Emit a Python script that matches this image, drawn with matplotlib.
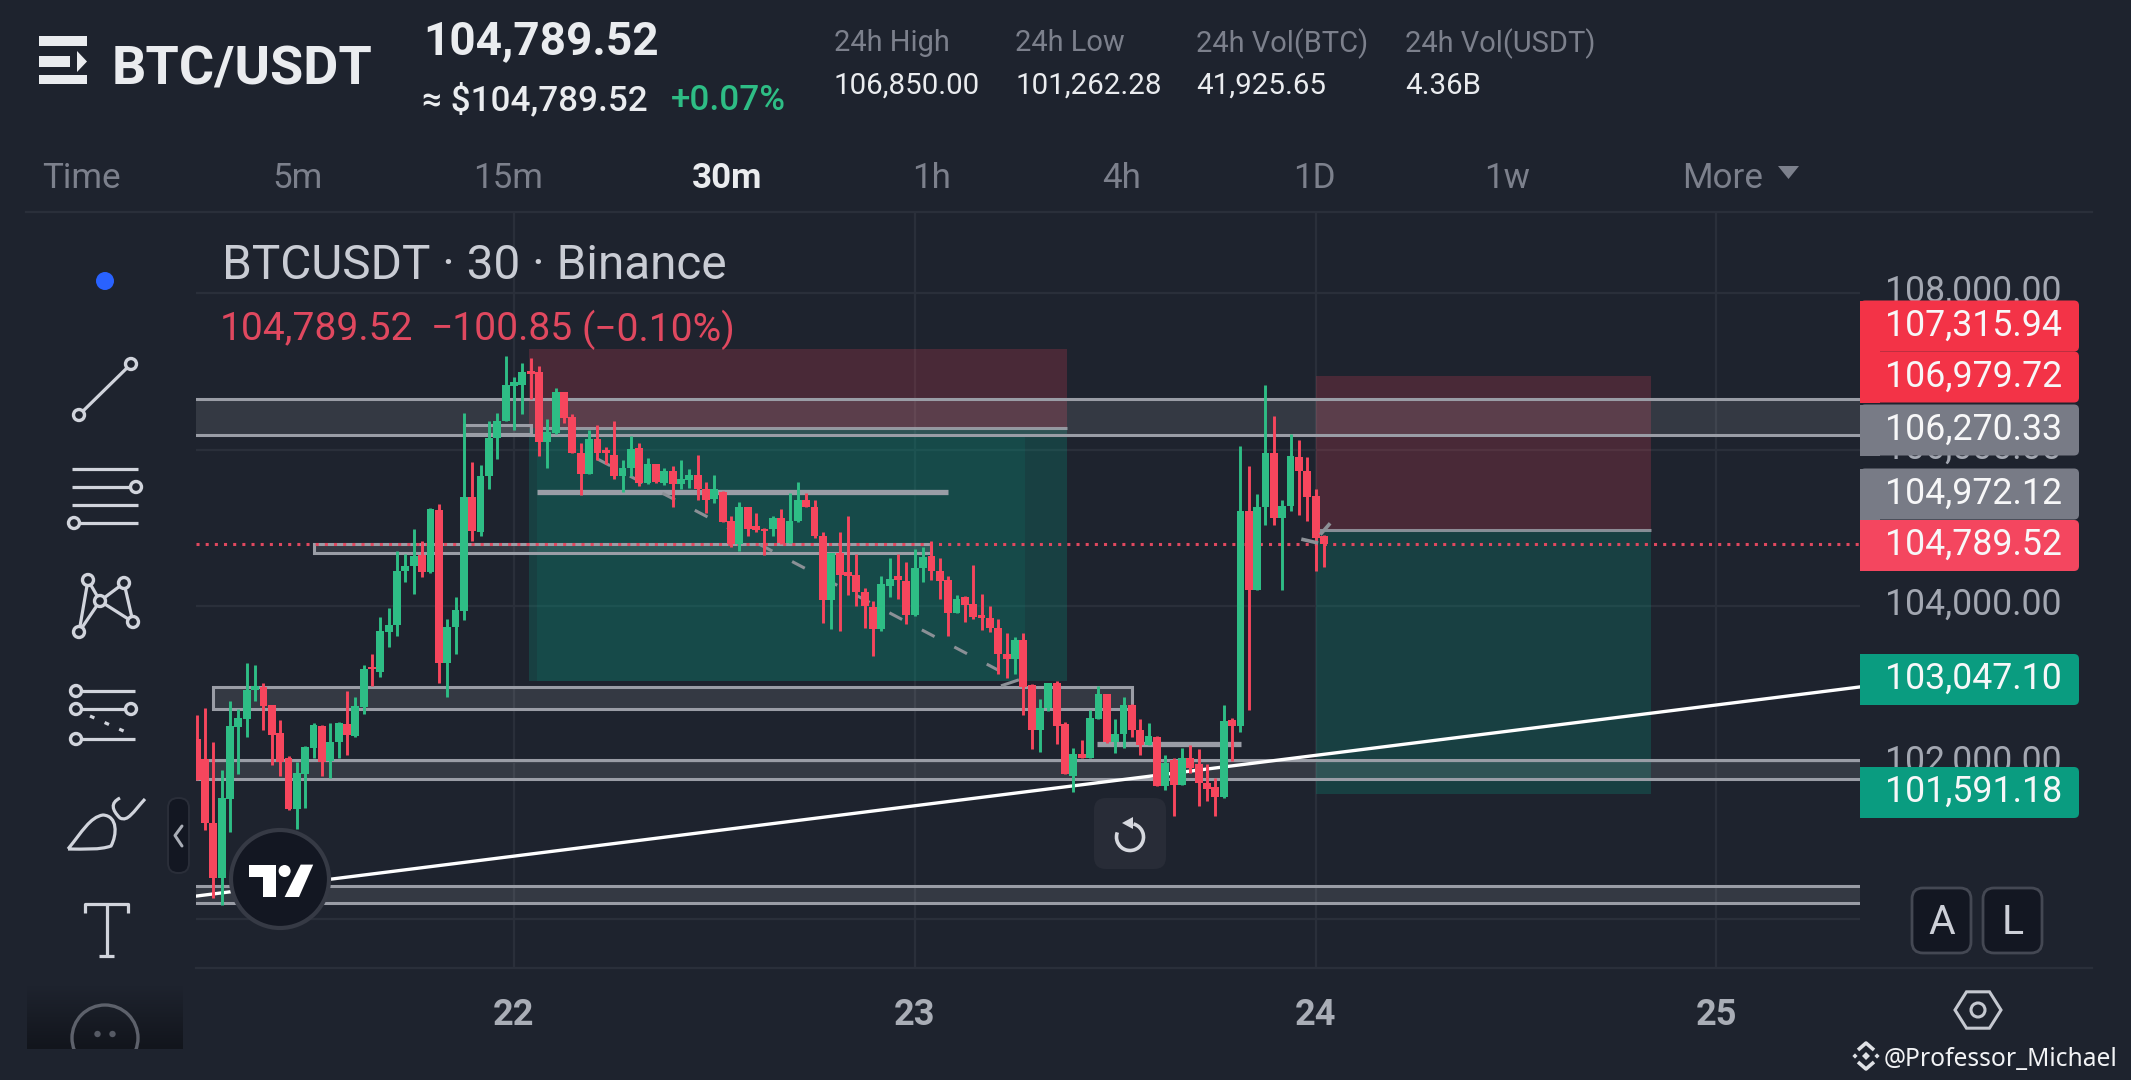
import numpy as np
import matplotlib
matplotlib.use("Agg")
import matplotlib.pyplot as plt
from matplotlib.patches import Rectangle, Circle, Polygon, FancyBboxPatch, Arc, PathPatch
from matplotlib.path import Path
from matplotlib.colors import to_rgb
from matplotlib.transforms import ScaledTranslation

plt.rcParams['font.family'] = ['Roboto', 'DejaVu Sans']

# 30m candles, bar 0 is the start of the 22nd
bar_open = [102300, 102040, 101230, 100520, 101530, 102450, 102560, 102920, 102960, 102730, 102370, 102050,
            101400, 101850, 102190, 102460, 102020, 102260, 102490, 102340, 102710, 103220, 103160, 103670,
            103760, 104450, 104510, 104650, 104440, 105230, 103270, 103730, 103940, 105400, 104950, 105660,
            106150, 106360, 106810, 106830, 107000, 106990, 106100, 106210, 106730, 106420, 105960, 105690,
            106130, 105990, 105930, 105660, 105770, 106020, 105570, 105810, 105570, 105730, 105560, 105610,
            105680, 105490, 105370, 105460, 105090, 104790, 105260, 105020, 104990, 104980, 105130, 104810,
            105090, 105360, 105270, 104900, 104080, 104680, 104430, 104390, 104180, 103990, 103700, 104260,
            104380, 104320, 103890, 104490, 104640, 104450, 104330, 103910, 104110, 104020, 103890, 103850,
            103720, 103390, 103320, 103560, 102990, 102410, 102690, 103020, 102490, 101830, 102110, 102060,
            102560, 102880, 102260, 102360, 102740, 102420, 102220, 102330, 101700, 102030, 101710, 102060,
            101980, 101740, 101680, 101560, 102540, 102470, 105220, 104210, 105260, 105950, 105120, 105280,
            105900, 105730, 105410, 104890]
bar_high = [102600, 102700, 102260, 101900, 102790, 102680, 103270, 103240, 103010, 102730, 102540, 102080,
            102010, 102210, 102510, 102480, 102510, 102520, 102910, 102830, 103240, 103380, 103860, 103980,
            104700, 104670, 104990, 104830, 105250, 105300, 103830, 104120, 106470, 105840, 105800, 106370,
            106470, 107200, 106930, 107110, 107170, 107070, 106390, 106790, 106740, 106460, 106090, 106250,
            106310, 106030, 106370, 105870, 106180, 106080, 105890, 105820, 105770, 105790, 105870, 105750,
            105930, 105580, 105670, 105470, 105150, 105330, 105260, 105190, 105000, 105150, 105240, 105440,
            105580, 105440, 105360, 104950, 104680, 104940, 105150, 104660, 104230, 104060, 104380, 104610,
            104670, 104560, 104730, 104750, 104830, 104610, 104380, 104140, 104130, 104520, 104150, 104000,
            103830, 103660, 103600, 103660, 103000, 102810, 103020, 103040, 102520, 102180, 102290, 102670,
            102980, 102880, 102550, 102830, 102750, 102550, 102500, 102340, 102100, 102050, 102190, 102220,
            102170, 101980, 101800, 102740, 102570, 106040, 105790, 105430, 106820, 106430, 105360, 106200,
            106120, 105900, 105500, 104910]
bar_low = [101780, 101140, 100260, 100180, 101110, 101850, 102330, 102780, 102420, 101970, 101830, 101390,
           101150, 101420, 102060, 101820, 101800, 102060, 102100, 102330, 102620, 102980, 103090, 103480,
           103620, 104310, 104150, 104370, 104420, 103020, 102830, 103380, 103820, 104830, 104890, 105500,
           105880, 106360, 106250, 106460, 106650, 105920, 105760, 106200, 106340, 105960, 105420, 105690,
           105870, 105820, 105620, 105460, 105660, 105540, 105560, 105570, 105550, 105270, 105490, 105510,
           105360, 105190, 105320, 105070, 104750, 104700, 104900, 104950, 104650, 104900, 104790, 104800,
           105070, 105260, 104870, 103780, 103710, 103680, 104140, 104000, 103720, 103360, 103680, 104110,
           104090, 103770, 103870, 104310, 104330, 104090, 103620, 103910, 103790, 103840, 103690, 103670,
           103130, 103080, 103130, 102610, 102170, 102130, 102660, 102230, 101850, 101620, 102050, 102050,
           102550, 102250, 102120, 102190, 102330, 102090, 102220, 101700, 101650, 101310, 101710, 101870,
           101440, 101510, 101320, 101550, 102020, 102390, 102670, 104210, 105040, 105030, 104210, 105220,
           105160, 105090, 104450, 104500]
bar_close = [101780, 101230, 100520, 101540, 102460, 102570, 102920, 102980, 102720, 102350, 102010, 101400,
             101860, 102200, 102480, 102010, 102260, 102500, 102350, 102720, 103200, 103190, 103680, 103760,
             104450, 104510, 104640, 104440, 105240, 103270, 103730, 103950, 105400, 104960, 105660, 106150,
             106370, 106830, 106860, 106990, 106970, 106100, 106220, 106740, 106410, 105960, 105690, 106140,
             105960, 105950, 105660, 105770, 106010, 105570, 105820, 105580, 105730, 105560, 105620, 105680,
             105490, 105360, 105490, 105070, 104790, 105260, 104980, 104970, 104960, 105130, 104800, 105090,
             105360, 105270, 104900, 104080, 104680, 104400, 104380, 104180, 104000, 103710, 104280, 104350,
             104330, 103890, 104490, 104630, 104450, 104320, 103910, 104090, 104010, 103860, 103850, 103720,
             103380, 103320, 103570, 102960, 102410, 102700, 103010, 102470, 101850, 102110, 102050, 102570,
             102880, 102260, 102360, 102740, 102420, 102220, 102340, 101700, 101990, 101710, 102060, 101930,
             101740, 101660, 101560, 102530, 102470, 105220, 104210, 105260, 105950, 105120, 105280, 105920,
             105730, 105400, 104870, 104790]
bar_index = np.arange(-38, 98)

last_price = 104789.52
y_ticks = [108000, 106000, 104000, 102000, 100000]
y_tick_labels = ["108,000.00", "106,000.00", "104,000.00", "102,000.00", ""]
day_ticks = [0, 48, 96, 144]
day_labels = ["22", "23", "24", "25"]

# grey zones: first bar, last bar, top price, bottom price
zone_start = [-40, -6, -24, -36, -40, -40]
zone_end = [170, 2, 50, 74, 170, 170]
zone_top = [106650, 106320, 104795, 102970, 102030, 100420]
zone_bottom = [106190, 106200, 104680, 102685, 101790, 100200]

# thin solid levels
level_start = [2.8, 69.8]
level_end = [52, 87.1]
level_price = [105460, 102240]

# trend line and the dashed projection
trend_x = [-38.1, 161.2]
trend_y = [100290, 102965]
dash_x = [10, 60.3]
dash_y = [105880, 103050]

# long/short boxes
box_start = [1.8, 96]
box_end = [66.2, 136.2]
box_stop = [107280, 106945]
box_entry = [106270.33, 104972.12]
box_target = [103047.10, 101591.18]

tag_values = [107315.94, 106979.72, 106270.33, 104972.12, 104789.52, 103047.10, 101591.18]
tag_colors = ['#f33347', '#f33347', '#787b86', '#787b86', '#f4465f', '#0a9c80', '#0a9c80']
tag_centers = [326, 377, 430, 494, 545.5, 679.5, 792.5]

BG = '#1e232e'
GRID = '#2a2f3a'
UP = '#2ebd85'
DOWN = '#f6465d'
ZONE = '#9a9da6'
ICON = '#d1d4dc'
MUTED = '#7c808c'
DARK = '#131722'

fig = plt.figure(figsize=(21.31, 10.8), dpi=100, facecolor=BG)
ax = fig.add_axes([196 / 2131, 1 - 968 / 1080, (1860 - 196) / 2131, (968 - 212) / 1080], facecolor=BG)
ax.set_xlim(-38.08, 161.2)
ax.set_ylim(99371, 109038)
for s in ax.spines.values():
    s.set_visible(False)

ax.set_yticks(y_ticks, y_tick_labels)
ax.set_xticks(day_ticks, day_labels)
ax.yaxis.tick_right()
ax.tick_params(axis='y', length=0, pad=145, labelsize=25.7, labelcolor='#a3a7b1')
for t in ax.get_yticklabels():
    t.set_ha('right')
    t.set_transform(t.get_transform() + ScaledTranslation(0, 0.05, fig.dpi_scale_trans))
ax.tick_params(axis='x', length=0, pad=21, labelsize=26, labelcolor='#a9adb6')
for t in ax.get_xticklabels():
    t.set_fontweight('bold')
ax.grid(color=GRID, lw=1.6, zorder=0)
ax.set_axisbelow(True)

# position boxes
for i in range(2):
    w = box_end[i] - box_start[i]
    ax.add_patch(Rectangle((box_start[i], box_entry[i]), w, box_stop[i] - box_entry[i], fc=DOWN, alpha=0.2, lw=0, zorder=1))
    ax.add_patch(Rectangle((box_start[i], box_target[i]), w, box_entry[i] - box_target[i], fc='#089981', alpha=0.25, lw=0, zorder=1))
    ax.hlines(box_entry[i], max(box_start[i], 2.8), box_end[i], color=ZONE, lw=2.2, alpha=0.85, zorder=2)
# lighter second box on top of the first one
ax.add_patch(Rectangle((2.8, box_target[0]), 58.4, 106170 - box_target[0], fc='#089981', alpha=0.12, lw=0, zorder=1))

for i in range(len(zone_start)):
    ax.add_patch(Rectangle((zone_start[i], zone_bottom[i]), zone_end[i] - zone_start[i], zone_top[i] - zone_bottom[i],
                           fc=(1, 1, 1, 0.1), ec=ZONE, lw=2.2, zorder=2))
ax.hlines(level_price, level_start, level_end, color=ZONE, lw=3.8, zorder=2)

ax.plot(dash_x, dash_y, color='#8b9096', lw=2.2, ls=(0, (4.7, 7.3)), zorder=2)
ax.plot([58.5, 60.3], [102985, 103050], color='#8b9096', lw=2.2, zorder=2)
ax.plot([94.5, 96.1], [104850, 104810], color='#8b9096', lw=2.6, zorder=5)
ax.plot([96.7, 97.6], [104930, 105040], color='#8b9096', lw=2.6, zorder=5)
ax.plot(trend_x, trend_y, color='white', lw=2.4, zorder=3)
ax.axhline(last_price, color='#e0485f', lw=2.2, ls=(0, (1, 2)), zorder=3)

# candles
bar_open = np.array(bar_open)
bar_close = np.array(bar_close)
colors = [UP if c >= o else DOWN for o, c in zip(bar_open, bar_close)]
ax.vlines(bar_index, bar_low, bar_high, colors=colors, lw=2.1, zorder=4)
ax.bar(bar_index, np.abs(bar_close - bar_open), bottom=np.minimum(bar_open, bar_close), width=0.94, color=colors, lw=0, zorder=4)

# everything around the chart, in pixels
ov = fig.add_axes([0, 0, 1, 1], zorder=10)
ov.patch.set_alpha(0)
ov.axis('off')


def label(x, y, s, px, color, weight='normal', ha='left', family=None):
    ov.text(x, y, s, fontsize=px * 0.72, color=color, fontweight=weight, ha=ha, va='center_baseline', family=family)


def stroke(xs, ys, lw=3.2, color=ICON, **kw):
    ov.plot(xs, ys, color=color, lw=lw * 0.72, solid_capstyle=kw.pop('cap', 'round'), **kw)


def dot(x, y, r=5.5, color=ICON):
    ov.add_patch(Circle((x, y), r, fc=BG, ec=color, lw=2.4, zorder=4))


# header
for y0, y1, x1 in [(36, 46, 87), (56, 67, 70), (75, 84, 87)]:
    ov.add_patch(Rectangle((39, y0), x1 - 39, y1 - y0, fc='#eaecef', lw=0))
ov.add_patch(Polygon([(77, 51), (87, 61.5), (77, 72)], fc='#eaecef', lw=0))
label(112, 64, "BTC/USDT", 54, '#eaecef', 'bold')
label(423, 37, "104,789.52", 46, '#eaecef', 'bold')
label(422, 96, "≈ $104,789.52", 35, '#eaecef', 'medium')
label(671, 97, "+0.07%", 35, UP, 'medium')

stat_x = [834, 1015, 1196, 1405]
stat_names = ["24h High", "24h Low", "24h Vol(BTC)", "24h Vol(USDT)"]
stat_values = ["106,850.00", "101,262.28", "41,925.65", "4.36B"]
for x, n, v in zip(stat_x, stat_names, stat_values):
    label(x, 40, n, 29, MUTED)
    label(x, 83, v, 29.5, '#eaecef')

tab_x = [42, 272, 473, 692, 912, 1102, 1293, 1484, 1682]
tab_names = ["Time", "5m", "15m", "30m", "1h", "4h", "1D", "1w", "More"]
for x, n in zip(tab_x, tab_names):
    if n == "30m":
        label(x, 175, n, 35, '#eaecef', 'bold')
    else:
        label(x, 175, n, 35, MUTED)
ov.add_patch(Polygon([(1778, 166), (1799, 166), (1788.5, 179)], fc=MUTED, lw=0))
ov.plot([26, 2092], [212, 212], color=GRID, lw=1.6)
ov.plot([196, 2092], [968, 968], color=GRID, lw=1.6)

label(222, 261, "BTCUSDT · 30 · Binance", 47.8, '#c9ccd4')
label(220, 325, "104,789.52", 39, '#e0485f')
label(431, 325, "−100.85", 39, '#e0485f')
label(582, 325, "(−0.10%)", 39, '#e0485f')

# price tags
for v, c, yc in zip(tag_values, tag_colors, tag_centers):
    ov.add_patch(FancyBboxPatch((1860, yc - 25.5), 219, 51, boxstyle="round,pad=0,rounding_size=5", fc=c, lw=0))
    ov.add_patch(Rectangle((1860, yc - 25.5), 20, 51, fc=c, lw=0))
    label(2062, yc - 4.5, f"{v:,.2f}", 35.7, '#f7f7f8', ha='right')

# drawing tools
ov.add_patch(Circle((105, 281), 9, fc='#2962ff', lw=0))

stroke([79, 131], [415, 364])
dot(79, 415)
dot(131, 364)

for y, x0, x1 in [(469, 72, 138), (487, 72, 135), (505, 72, 138), (523, 75, 138)]:
    stroke([x0, x1], [y, y], cap='butt')
dot(136, 487)
dot(74, 523)

fork = [(88, 580), (124, 583), (100, 601), (79, 632), (133, 622)]
for a, b in [(0, 3), (0, 2), (2, 3), (2, 1), (2, 4), (1, 4)]:
    stroke([fork[a][0], fork[b][0]], [fork[a][1], fork[b][1]])
for x, y in fork:
    dot(x, y)

for y, x1 in [(691, 135), (709, 131), (739, 135)]:
    stroke([76, x1], [y, y], cap='butt')
stroke([90, 128], [716, 733], lw=3.2, ls=(0, (1.5, 3.5)))
for x, y in [(76, 691), (76, 709), (131, 709), (76, 739)]:
    dot(x, y)

brush = Path([(68, 849), (82, 832), (90, 817), (103, 815), (118, 816), (117, 835), (111, 846), (100, 850), (85, 849), (68, 849)],
             [1, 4, 4, 4, 4, 4, 4, 4, 4, 4])
ov.add_patch(PathPatch(brush, fc='none', ec=ICON, lw=2.3))
handle = Path([(120, 798), (110, 803), (112, 810), (120, 818), (128, 822), (133, 812), (145, 799)], [1, 4, 4, 4, 4, 4, 4])
ov.add_patch(PathPatch(handle, fc='none', ec=ICON, lw=2.3))

stroke([85, 85, 128, 128], [913, 904, 904, 913], cap='butt')
stroke([107, 107], [904, 956], cap='butt')
stroke([99, 114], [956, 956], cap='butt')

# bottom of the toolbar fades out
c0 = np.array(to_rgb(BG))
c1 = np.array(to_rgb('#12151c'))
fade = np.linspace(0, 1, 64)[:, None, None] * (c1 - c0) + c0
ov.imshow(fade, extent=(27, 183, 1049, 986), aspect='auto', zorder=1)
clip = Rectangle((27, 986), 156, 63, transform=ov.transData)
more = Circle((105, 1038), 33, fc='none', ec='#5d616b', lw=2.4, zorder=2)
ov.add_patch(more)
more.set_clip_path(clip)
ov.add_patch(Circle((97.5, 1034), 3.2, fc='#565a64', lw=0, zorder=2))
ov.add_patch(Circle((112.5, 1034), 3.2, fc='#565a64', lw=0, zorder=2))

# collapse pill
ov.add_patch(FancyBboxPatch((168, 798), 21, 75, boxstyle="round,pad=0,rounding_size=10", fc=DARK, ec='#2a2e39', lw=1.4))
stroke([182, 175, 182], [826, 835.5, 846], color='#a9adb6', lw=3)

# tradingview badge
ov.add_patch(Circle((280, 879), 49, fc=DARK, ec='#363a45', lw=3, zorder=5))
ov.add_patch(Polygon([(249, 864.6), (276, 864.6), (276, 897), (263, 897), (263, 876.5), (249, 876.5)], fc='white', lw=0, zorder=6))
ov.add_patch(Circle((284.6, 871), 6, fc='white', lw=0, zorder=6))
ov.add_patch(Polygon([(300.7, 864.6), (313.2, 864.6), (299, 897), (284.6, 897)], fc='white', lw=0, zorder=6))

# reset button
ov.add_patch(FancyBboxPatch((1094, 798), 72, 71, boxstyle="round,pad=0,rounding_size=12", fc='#282c37', lw=0, zorder=5))
ov.add_patch(Arc((1130, 837), 27, 27, theta1=-75, theta2=200, ec='#d6d8de', lw=2.6, zorder=6))
ov.add_patch(Polygon([(1122, 823), (1133, 817), (1133, 829)], fc='#d6d8de', lw=0, zorder=6))

# A / L buttons
for x0, s in [(1912, "A"), (1983, "L")]:
    ov.add_patch(FancyBboxPatch((x0, 888), 59, 65, boxstyle="round,pad=0,rounding_size=11", fc=DARK, ec='#444853', lw=2))
    label(x0 + 29.5, 919, s, 41, '#cdd0d8', ha='center')

# settings hexagon
ang = np.deg2rad(np.arange(0, 360, 60))
ov.add_patch(Polygon(np.c_[1978 + 23 * np.cos(ang), 1010 + 21 * np.sin(ang)], fc='none', ec='#c5c8d0', lw=2.2))
ov.add_patch(Circle((1978, 1010), 7, fc='none', ec='#c5c8d0', lw=2.2))

# watermark
for pts in [[(1858, 1050), (1866, 1043), (1874, 1050)], [(1858, 1062), (1866, 1069), (1874, 1062)]]:
    stroke([p[0] for p in pts], [p[1] for p in pts], lw=3.6, color='#dfe1e5', cap='butt')
for x, y, r in [(1866, 1056, 4), (1855, 1056, 2.6), (1877, 1056, 2.6)]:
    ov.add_patch(Polygon([(x - r, y), (x, y - r), (x + r, y), (x, y + r)], fc='#dfe1e5', lw=0))
label(1884, 1057, "@Professor_Michael", 24.6, '#f2f3f5', family=['Noto Sans', 'DejaVu Sans'])

ov.set_xlim(0, 2131)
ov.set_ylim(1080, 0)

fig.savefig("out.png", dpi=100, facecolor=BG)
